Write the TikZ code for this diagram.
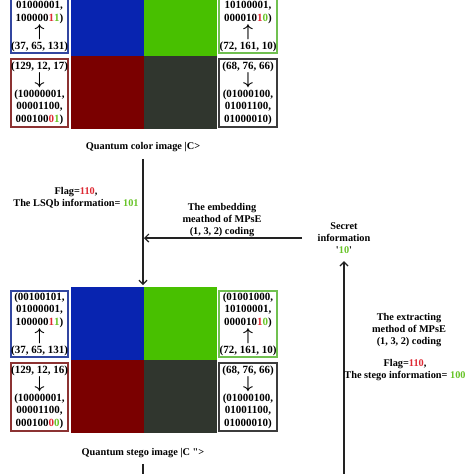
\documentclass[tikz,border=0pt]{standalone}
\usepackage{fontspec}
\setmainfont{Liberation Serif}
\usetikzlibrary{arrows.meta}
\definecolor{qblue}{RGB}{8,36,176}
\definecolor{qgreen}{RGB}{72,192,0}
\definecolor{qred}{RGB}{122,0,0}
\definecolor{qdark}{RGB}{48,54,46}
\definecolor{bblue}{RGB}{50,70,160}
\definecolor{bred}{RGB}{140,50,50}
\definecolor{bgreen}{RGB}{112,192,80}
\definecolor{bblack}{RGB}{60,60,60}
\definecolor{txtred}{RGB}{222,40,50}
\definecolor{txtgreen}{RGB}{104,196,40}
\definecolor{linegray}{RGB}{34,34,34}
\newcommand\redbit[1]{\textcolor{txtred}{#1}}
\newcommand\greenbit[1]{\textcolor{txtgreen}{#1}}
\newcommand\uparr{{\fontsize{17}{12.5}\selectfont\boldmath$\uparrow$}}
\newcommand\downarr{{\fontsize{17}{12.5}\selectfont\boldmath$\downarrow$}}
\begin{document}
\begin{tikzpicture}[x=1pt,y=-1pt,
  boxtxt/.style={font=\bfseries\fontsize{11}{12.5}\selectfont, align=center, inner sep=0pt, text=black},
  lbl/.style={font=\bfseries\fontsize{10.3}{12}\selectfont, align=center, inner sep=0pt, text=black},
  pixbox/.style={boxtxt, draw, line width=1.2pt, minimum width=57pt, minimum height=66pt},
  quad/.style={minimum width=73pt, minimum height=73pt, inner sep=0pt, draw=none},
  conn/.style={line width=1.3pt, draw=linegray},
  tip/.style={-{Straight Barb[length=4pt,width=8pt,line width=1.2pt]}}
]
\useasboundingbox (0,0) rectangle (474,474);
\clip (0,0) rectangle (474,474);
\fill[white] (0,0) rectangle (474,474);

% ---------- top (cover) image ----------
\begin{scope}[shift={(0,-304)}]
  \node[quad, fill=qblue]  (tq1) at (107.5,323.5) {};
  \node[quad, fill=qgreen] (tq2) at (180.5,323.5) {};
  \node[quad, fill=qred]   (tq3) at (107.5,396.5) {};
  \node[quad, fill=qdark]  (tq4) at (180.5,396.5) {};
  \node[pixbox, draw=bblue] (tbb) at (39.5,324)
    {(00100101,\\01000001,\\100000\redbit{1}\greenbit{1})\\\uparr\\(37, 65, 131)};
  \node[pixbox, draw=bred, minimum height=68pt] (tbr) at (39.5,397)
    {(129, 12, 17)\\\downarr\\(10000001,\\00001100,\\000100\redbit{0}\greenbit{1})};
  \node[pixbox, draw=bgreen, minimum width=58pt] (tbg) at (248,324)
    {(01001000,\\10100001,\\000010\redbit{1}\greenbit{0})\\\uparr\\(72, 161, 10)};
  \node[pixbox, draw=bblack, minimum width=58pt, minimum height=68pt] (tbk) at (248,397)
    {(68, 76, 66)\\\downarr\\(01000100,\\01001100,\\01000010)};
\end{scope}

\node[lbl] (titleC) at (143,147) {Quantum color image |C>};
\coordinate (gridin) at (143,285);
\draw[conn,tip] ([yshift=-7pt]titleC.south) -- (gridin);

\node[lbl] (flagL) at (76,197.5) {Flag=\redbit{110},\\The LSQb information= \greenbit{101}};
\node[lbl] (embed) at (222,220) {The embedding\\meathod of MPsE\\(1, 3, 2) coding};
\node[lbl] (secret) at (344,238.5) {Secret\\information\\\textquotesingle\greenbit{10}\textquotesingle};

\coordinate (embstart) at (302,238);
\coordinate (embend) at (144,238);
\draw[conn,tip] (embstart) -- (embend);

\coordinate (bottomR) at (344,476);
\draw[conn,tip] (bottomR) -- ([yshift=-7pt]secret.south);

% ---------- bottom (stego) image ----------
\node[quad, fill=qblue]  (bq1) at (107.5,323.5) {};
\node[quad, fill=qgreen] (bq2) at (180.5,323.5) {};
\node[quad, fill=qred]   (bq3) at (107.5,396.5) {};
\node[quad, fill=qdark]  (bq4) at (180.5,396.5) {};
\node[pixbox, draw=bblue] (bbb) at (39.5,324)
  {(00100101,\\01000001,\\100000\redbit{1}\greenbit{1})\\\uparr\\(37, 65, 131)};
\node[pixbox, draw=bred, minimum height=68pt] (bbr) at (39.5,397)
  {(129, 12, 16)\\\downarr\\(10000001,\\00001100,\\000100\redbit{0}\greenbit{0})};
\node[pixbox, draw=bgreen, minimum width=58pt] (bbg) at (248,324)
  {(01001000,\\10100001,\\000010\redbit{1}\greenbit{0})\\\uparr\\(72, 161, 10)};
\node[pixbox, draw=bblack, minimum width=58pt, minimum height=68pt] (bbk) at (248,397)
  {(68, 76, 66)\\\downarr\\(01000100,\\01001100,\\01000010)};

\node[lbl] (titleS) at (143,453) {Quantum stego image |C \textquotedbl>};
\coordinate (bottomL) at (143,476);
\draw[conn] ([yshift=-6pt]titleS.south) -- (bottomL);

\node[lbl] (extract) at (409,330) {The extracting\\method of MPsE\\(1, 3, 2) coding};
\node[lbl] (flagR) at (405,370) {Flag=\redbit{110},\\The stego information= \greenbit{100}};
\end{tikzpicture}
\end{document}
